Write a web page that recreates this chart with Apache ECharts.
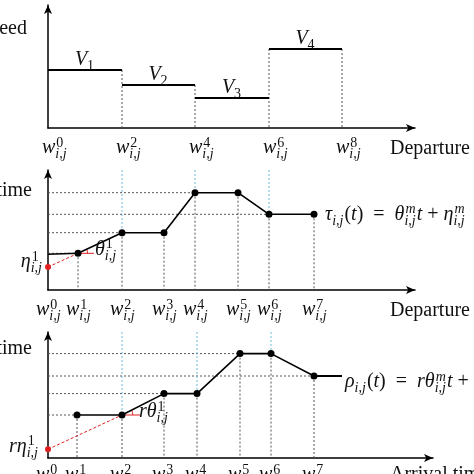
<!DOCTYPE html>
<html>
<head>
<meta charset="utf-8">
<script src="https://cdn.jsdelivr.net/npm/echarts@6/dist/echarts.min.js"></script>
<style>
html,body{margin:0;padding:0;background:#fff;}
#main{width:474px;height:474px;}
</style>
</head>
<body>
<div id="main"></div>
<script>
// panel 1 : speed per interval
var speedW = [0, 74, 147, 221, 294];
var speedWIdx = ['0', '2', '4', '6', '8'];
var speeds = [58, 43, 30, 79];
// panel 2 : travel time at the break points w1..w7
var travelW = [0, 30, 74, 116, 147, 190, 221, 266];
var travelT = [36.7, 57.3, 57.3, 97.3, 97.3, 75.7, 75.7];
var travelT0 = 35.7;
var eta1 = 23;
// panel 3 : arrival time at the break points w1..w7
var arriveW = [0, 29, 74, 116, 149, 192, 223, 266];
var arriveT = [43, 43, 64.4, 64.4, 104.4, 104.4, 82];
var arriveTailX = 294;
var rEta1 = 8.7;
// indexes that get the blue guide line, tick names
var blueIdx = [2, 4, 6];
var wIdx = ['0', '1', '2', '3', '4', '5', '6', '7'];

var SERIF = '"Liberation Serif","Times New Roman",serif';
var ctx = document.createElement('canvas').getContext('2d');
function tw(t, f) { ctx.font = f; return ctx.measureText(t).width; }

// lay out a little math string: main tokens + stacked sup/sub
function layoutMath(tokens, size) {
    var els = [], x = 0, ss = Math.round(size * 0.7);
    tokens.forEach(function (tk) {
        if (tk.t != null) {
            var f = (tk.r ? '' : 'italic ') + size + 'px ' + SERIF;
            els.push({x: x, y: 0, text: tk.t, font: f});
            x += tw(tk.t, f);
        } else {
            var w = 0;
            if (tk.sup) {
                var fs = (/^\d+$/.test(tk.sup) ? '' : 'italic ') + ss + 'px ' + SERIF;
                els.push({x: x + 1, y: -size * 0.25, text: tk.sup, font: fs});
                w = Math.max(w, tw(tk.sup, fs) + 1);
            }
            if (tk.sub) {
                var fb = (/^\d+$/.test(tk.sub) ? '' : 'italic ') + ss + 'px ' + SERIF;
                els.push({x: x, y: size * 0.34, text: tk.sub, font: fb});
                w = Math.max(w, tw(tk.sub, fb));
            }
            x += w + 1;
        }
    });
    return {els: els, width: x};
}

function textSeries(g, items) {
    return {
        type: 'custom', xAxisIndex: g, yAxisIndex: g, z: 6, silent: true,
        data: items.map(function (it) { return it.at.slice(); }),
        renderItem: function (params, api) {
            var it = items[params.dataIndex];
            var p = api.coord([api.value(0), api.value(1)]);
            var m = layoutMath(it.tokens, it.size || 20);
            var x0 = p[0] + (it.dx || 0);
            if (it.align === 'center') x0 -= m.width / 2;
            if (it.align === 'right') x0 -= m.width;
            var y0 = p[1] + (it.dy || 0);
            return {
                type: 'group',
                children: m.els.map(function (e) {
                    return {
                        type: 'text', x: x0 + e.x, y: y0 + e.y,
                        style: {text: e.text, font: e.font, fill: '#111',
                            align: 'left', verticalAlign: 'middle'}
                    };
                })
            };
        }
    };
}

// red angle mark: point + next point on the slope
function angleSeries(g, pt, nxt, len) {
    return {
        type: 'custom', xAxisIndex: g, yAxisIndex: g, z: 2, silent: true,
        data: [[pt[0], pt[1], nxt[0], nxt[1]]],
        renderItem: function (params, api) {
            var a = api.coord([api.value(0), api.value(1)]);
            var b = api.coord([api.value(2), api.value(3)]);
            var ang = Math.atan2(b[1] - a[1], b[0] - a[0]);
            return {
                type: 'group',
                children: [
                    {type: 'line', shape: {x1: a[0], y1: a[1], x2: a[0] + len, y2: a[1]},
                        style: {stroke: '#e02020', lineWidth: 1}},
                    {type: 'arc', shape: {cx: a[0], cy: a[1], r: len * 0.6, startAngle: ang, endAngle: 0, clockwise: true},
                        style: {stroke: '#e02020', fill: 'none', lineWidth: 1}}
                ]
            };
        }
    };
}

function seg(list) {
    var d = [];
    list.forEach(function (s) { d.push(s[0].slice(), s[1].slice(), [s[1][0], '-']); });
    return d;
}
function lineSeries(g, data, style, z) {
    return {type: 'line', xAxisIndex: g, yAxisIndex: g, data: data, symbol: 'none',
        lineStyle: style, z: z || 1, silent: true, connectNulls: false};
}
var dotBlack = {color: '#555', width: 1, type: [2, 2]};
var dotBlue = {color: '#6cbcd8', width: 1, type: [2, 2]};

function axisPair(g, xmax, ymax) {
    function line() {
        return {show: true, onZero: false, symbol: ['none', 'arrow'], symbolSize: [6, 9],
            lineStyle: {color: '#000', width: 1.5}};
    }
    return {
        x: {gridIndex: g, type: 'value', min: 0, max: xmax, axisLine: line(),
            axisTick: {show: false}, axisLabel: {show: false}, splitLine: {show: false}},
        y: {gridIndex: g, type: 'value', min: 0, max: ymax, axisLine: line(),
            axisTick: {show: false}, axisLabel: {show: false}, splitLine: {show: false}}
    };
}
var a0 = axisPair(0, 367, 123), a1 = axisPair(1, 367, 120), a2 = axisPair(2, 385, 126);

var series = [];

// ---------- panel 1 ----------
var stepSegs = [], stepGuides = [];
speeds.forEach(function (v, i) { stepSegs.push([[speedW[i], v], [speedW[i + 1], v]]); });
for (var k = 1; k < speedW.length; k++) {
    var guideTop = Math.max(speeds[k - 1], speeds[k] || 0);
    stepGuides.push([[speedW[k], guideTop], [speedW[k], 0]]);
}
series.push(lineSeries(0, seg(stepGuides), dotBlack, 1));
series.push(lineSeries(0, seg(stepSegs), {color: '#000', width: 2}, 3));
var p1Text = speedW.map(function (w, i) {
    return {at: [w, 0], tokens: [{t: 'w'}, {sup: speedWIdx[i], sub: 'i,j'}], dx: -6, dy: 20};
});
speeds.forEach(function (v, i) {
    p1Text.push({at: [(speedW[i] + speedW[i + 1]) / 2, v], tokens: [{t: 'V'}, {sub: String(i + 1)}],
        align: 'center', dy: -10});
});
p1Text.push({at: [367, 0], tokens: [{t: 'Departure', r: 1}], dx: -25, dy: 21});
p1Text.push({at: [0, 123], tokens: [{t: 'Speed', r: 1}], align: 'right', dx: -21, dy: 24});
series.push(textSeries(0, p1Text));

// ---------- panel 2 / 3 builder ----------
function curvePanel(g, W, T, ymax, startPt) {
    var pts = W.slice(1).map(function (x, j) { return [x, T[j]]; });
    var down = [], blue = [], horiz = [], seen = {};
    pts.forEach(function (p, j) {
        down.push([[p[0], p[1]], [p[0], 0]]);
        if (!seen[p[1]]) { seen[p[1]] = 1; horiz.push([[0, p[1]], [p[0], p[1]]]); }
        if (blueIdx.indexOf(j + 1) >= 0) blue.push([[p[0], ymax], [p[0], p[1]]]);
    });
    series.push(lineSeries(g, seg(horiz), dotBlack, 1));
    series.push(lineSeries(g, seg(down), dotBlack, 1));
    series.push(lineSeries(g, seg(blue), dotBlue, 1));
    var data = [];
    if (startPt) data.push({value: startPt.slice(), symbol: 'none'});
    pts.forEach(function (p) { data.push(p.slice()); });
    series.push({type: 'line', xAxisIndex: g, yAxisIndex: g, data: data, z: 4, silent: true,
        symbol: 'circle', symbolSize: 7, showAllSymbol: true,
        itemStyle: {color: '#000'}, lineStyle: {color: '#000', width: 1.6}});
    return pts;
}

// ---------- panel 2 ----------
var tp = curvePanel(1, travelW, travelT, 120, [0, travelT0]);
series.push({type: 'line', xAxisIndex: 1, yAxisIndex: 1, z: 2, silent: true,
    data: [{value: [0, eta1], symbol: 'circle'}, {value: tp[0].slice(), symbol: 'none'}],
    symbol: 'none', symbolSize: 6,
    itemStyle: {color: '#e02020'}, lineStyle: {color: '#e02020', width: 1, type: [3, 2]}});
series.push(angleSeries(1, tp[0], tp[1], 16));
var p2Text = travelW.map(function (w, i) {
    return {at: [w, 0], tokens: [{t: 'w'}, {sup: wIdx[i], sub: 'i,j'}], dx: -12, dy: 20};
});
p2Text.push({at: [367, 0], tokens: [{t: 'Departure', r: 1}], dx: -25, dy: 21});
p2Text.push({at: [0, 120], tokens: [{t: 'time', r: 1}], align: 'right', dx: -16, dy: 21});
p2Text.push({at: [0, eta1], tokens: [{t: 'η'}, {sup: '1', sub: 'i,j'}], align: 'right', dx: -5, dy: -5});
p2Text.push({at: tp[0], tokens: [{t: 'θ'}, {sup: '1', sub: 'i,j'}], dx: 17, dy: -4});
p2Text.push({at: tp[6], tokens: [{t: 'τ'}, {sub: 'i,j'}, {t: '(', r: 1}, {t: 't'}, {t: ')', r: 1},
    {t: '  =  ', r: 1}, {t: 'θ'}, {sup: 'm', sub: 'i,j'}, {t: 't'}, {t: ' + ', r: 1},
    {t: 'η'}, {sup: 'm', sub: 'i,j'}], dx: 11, dy: 0});
series.push(textSeries(1, p2Text));

// ---------- panel 3 ----------
var ap = curvePanel(2, arriveW, arriveT, 126, null);
var tailPt = [arriveTailX, arriveT[6]];
series.push({type: 'line', xAxisIndex: 2, yAxisIndex: 2, z: 5, silent: true, symbol: 'none',
    data: [[arriveW[7], arriveT[6]], [arriveTailX, arriveT[6]]],
    lineStyle: {color: '#000', width: 1.8, type: 'solid'}});
series.push({type: 'line', xAxisIndex: 2, yAxisIndex: 2, z: 2, silent: true,
    data: [{value: [0, rEta1], symbol: 'circle'}, {value: ap[1].slice(), symbol: 'none'}],
    symbol: 'none', symbolSize: 6,
    itemStyle: {color: '#e02020'}, lineStyle: {color: '#e02020', width: 1, type: [3, 2]}});
series.push(angleSeries(2, ap[1], ap[2], 18));
var p3Text = arriveW.map(function (w, i) {
    return {at: [w, 0], tokens: [{t: 'w'}, {sup: wIdx[i], sub: 'i,j'}], dx: -12, dy: 17};
});
p3Text.push({at: [385, 0], tokens: [{t: 'Arrival time', r: 1}], dx: -43, dy: 17});
p3Text.push({at: [0, 126], tokens: [{t: 'time', r: 1}], align: 'right', dx: -16, dy: 17});
p3Text.push({at: [0, rEta1], tokens: [{t: 'r'}, {t: 'η'}, {sup: '1', sub: 'i,j'}], align: 'right', dx: -9, dy: -3});
p3Text.push({at: ap[1], tokens: [{t: 'r'}, {t: 'θ'}, {sup: '1', sub: 'i,j'}], dx: 17, dy: -3});
p3Text.push({at: tailPt, tokens: [{t: 'ρ'}, {sub: 'i,j'}, {t: '(', r: 1}, {t: 't'}, {t: ')', r: 1},
    {t: '  =  ', r: 1}, {t: 'r'}, {t: 'θ'}, {sup: 'm', sub: 'i,j'}, {t: 't'}, {t: ' +', r: 1}], dx: 3, dy: 6});
series.push(textSeries(2, p3Text));

var chart = echarts.init(document.getElementById('main'));
chart.setOption({
    animation: false,
    backgroundColor: '#fff',
    grid: [
        {left: 48, top: 5, width: 367, height: 123},
        {left: 48, top: 170, width: 367, height: 120},
        {left: 48, top: 332, width: 385, height: 126}
    ],
    xAxis: [a0.x, a1.x, a2.x],
    yAxis: [a0.y, a1.y, a2.y],
    series: series
});

// leader from the last break point to the rho formula, placed through the axes
var ta = chart.convertToPixel({gridIndex: 2}, [arriveW[7], arriveT[6]]);
var tb = chart.convertToPixel({gridIndex: 2}, tailPt);
chart.setOption({
    graphic: [{type: 'line', z: 100, silent: true,
        shape: {x1: ta[0], y1: ta[1], x2: tb[0], y2: tb[1]},
        style: {stroke: '#000', lineWidth: 1.8}}]
});
</script>
</body>
</html>
